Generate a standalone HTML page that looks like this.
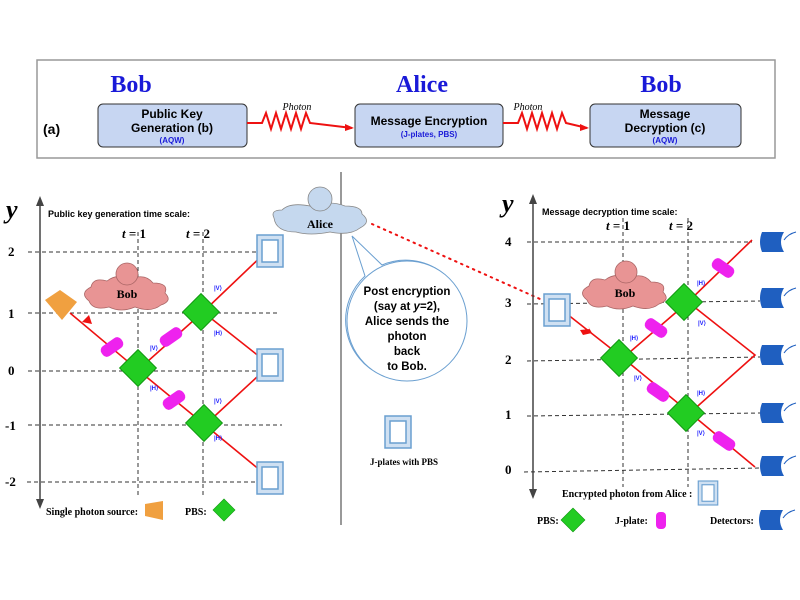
<!DOCTYPE html>
<html><head><meta charset="utf-8"><style>
body{margin:0;background:#fff;width:800px;height:600px;overflow:hidden}
svg{display:block}
.s{font-family:"Liberation Sans",sans-serif}
.r{font-family:"Liberation Serif",serif}
</style></head><body>
<svg width="800" height="600" viewBox="0 0 800 600" xmlns="http://www.w3.org/2000/svg">
<defs>
<g id="fr"><rect x="-13" y="-16" width="26" height="32" fill="#cfe0f2" stroke="#6a9fd0" stroke-width="1.5"/><rect x="-8" y="-11" width="16" height="22" fill="#fff" stroke="#6a9fd0" stroke-width="1.5"/></g>
<g id="pbs"><rect x="-13" y="-13" width="26" height="26" fill="#22cc22" stroke="#119911" transform="rotate(45)"/></g>
<g id="jp"><rect x="-12" y="-6" width="24" height="12" rx="5" fill="#ee22ee"/></g>
<g id="det"><path d="M-14,-10 H8 Q2,0 8,10 H-14 Q-18,0 -14,-10Z" fill="#1f5fc0"/><path d="M8,-2 Q12,-8 20,-10" stroke="#1f5fc0" fill="none"/></g>
<g id="cloudB"><path d="M-38,8 Q-48,0 -36,-6 Q-34,-16 -20,-12 Q-10,-20 4,-14 Q18,-20 26,-10 Q42,-10 38,0 Q46,8 34,12 Q24,20 8,14 Q-6,20 -18,14 Q-34,18 -38,8Z" fill="#e89494" stroke="#a66" stroke-width="0.8"/></g>
</defs>
<rect x="37" y="60" width="738" height="98" fill="#fff" stroke="#999" stroke-width="1.5"/>
<text x="131" y="92" class="r" font-size="24" font-weight="bold" fill="#1a1ad8" text-anchor="middle">Bob</text>
<text x="422" y="92" class="r" font-size="24" font-weight="bold" fill="#1a1ad8" text-anchor="middle">Alice</text>
<text x="661" y="92" class="r" font-size="24" font-weight="bold" fill="#1a1ad8" text-anchor="middle">Bob</text>
<text x="43" y="134" class="s" font-size="14" font-weight="bold">(a)</text>
<rect x="98" y="104" width="149" height="43" rx="5" fill="#c7d6f2" stroke="#333"/>
<rect x="355" y="104" width="148" height="43" rx="5" fill="#c7d6f2" stroke="#333"/>
<rect x="590" y="104" width="151" height="43" rx="5" fill="#c7d6f2" stroke="#333"/>
<g class="s" font-size="12" font-weight="bold" text-anchor="middle">
<text x="172" y="118">Public Key</text><text x="172" y="132">Generation (b)</text>
<text x="429" y="125">Message Encryption</text>
<text x="665" y="118">Message</text><text x="665" y="132">Decryption (c)</text>
</g>
<g class="s" font-size="8" font-weight="bold" fill="#1a1ad8" text-anchor="middle">
<text x="172" y="143">(AQW)</text><text x="429" y="137">(J-plates, PBS)</text><text x="665" y="143">(AQW)</text></g>
<path d="M247,123 L262,123 l4,-10 l5,16 l5,-16 l5,16 l5,-16 l5,16 l5,-16 l5,16 l5,-16 l4,10 L352,128" stroke="#e11" stroke-width="2" fill="none"/>
<path d="M503,123 L518,123 l4,-10 l5,16 l5,-16 l5,16 l5,-16 l5,16 l5,-16 l5,16 l5,-16 l4,10 L587,128" stroke="#e11" stroke-width="2" fill="none"/>
<path d="M345,124 l9,4 -9,3z M580,124 l9,4 -9,3z" fill="#e11"/>
<text x="297" y="110" font-family="serif" font-style="italic" font-size="10" text-anchor="middle">Photon</text>
<text x="528" y="110" font-family="serif" font-style="italic" font-size="10" text-anchor="middle">Photon</text>

<line x1="341" y1="172" x2="341" y2="525" stroke="#999" stroke-width="2"/>

<!-- LEFT -->
<line x1="40" y1="200" x2="40" y2="505" stroke="#444" stroke-width="1.5"/>
<path d="M36,206 L40,196 L44,206Z M36,499 L40,509 L44,499Z" fill="#444"/>
<text x="6" y="218" class="r" font-size="26" font-weight="bold" font-style="italic">y</text>
<text x="48" y="217" class="s" font-size="9" font-weight="bold">Public key generation time  scale:</text>
<g class="r" font-size="13" font-weight="bold">
<text x="8" y="256">2</text><text x="8" y="318">1</text><text x="8" y="375">0</text><text x="5" y="430">-1</text><text x="5" y="486">-2</text></g>
<g stroke="#333" stroke-dasharray="4,3" stroke-width="1">
<line x1="28" y1="252" x2="280" y2="252"/><line x1="28" y1="313" x2="280" y2="313"/><line x1="28" y1="371" x2="280" y2="371"/><line x1="28" y1="425" x2="282" y2="425"/><line x1="27" y1="482" x2="282" y2="482"/>
<line x1="138" y1="232" x2="138" y2="495"/><line x1="203" y1="232" x2="203" y2="495"/></g>
<text x="122" y="238" class="r" font-size="13" font-weight="bold"><tspan font-style="italic">t</tspan> = 1</text>
<text x="186" y="238" class="r" font-size="13" font-weight="bold"><tspan font-style="italic">t</tspan> = 2</text>
<use href="#cloudB" x="127" y="293"/>
<circle cx="127" cy="274" r="11" fill="#e89494" stroke="#a66" stroke-width="0.8"/>
<text x="127" y="298" class="r" font-size="12" font-weight="bold" text-anchor="middle">Bob</text>
<polyline points="70,313 138,370 205,425 272,480" stroke="#e11" stroke-width="1.6" fill="none"/>
<polyline points="138,370 203,312 268,250" stroke="#e11" stroke-width="1.6" fill="none"/>
<polyline points="203,312 270,365 205,425" stroke="#e11" stroke-width="1.6" fill="none"/>
<path d="M82,322 l10,2 -3,-9 z" fill="#e11"/>
<polygon points="45,300 60,290 77,302 62,320" fill="#f0a040"/>
<use href="#jp" transform="translate(112,347) rotate(-35)"/>
<use href="#jp" transform="translate(171,337) rotate(-35)"/>
<use href="#jp" transform="translate(174,400) rotate(-35)"/>
<use href="#pbs" x="138" y="368"/><use href="#pbs" x="201" y="312"/><use href="#pbs" x="204" y="423"/>
<use href="#fr" x="270" y="251"/><use href="#fr" x="270" y="365"/><use href="#fr" x="270" y="478"/>
<g font-size="6" fill="#22f" font-weight="bold" class="s">
<text x="150" y="350">|V⟩</text><text x="150" y="390">|H⟩</text><text x="214" y="290">|V⟩</text><text x="214" y="335">|H⟩</text><text x="214" y="403">|V⟩</text><text x="214" y="440">|H⟩</text></g>
<text x="46" y="515" class="r" font-size="10" font-weight="bold">Single photon source:</text>
<polygon points="145,504 163,501 163,520 145,516" fill="#f0a040"/>
<text x="185" y="515" class="r" font-size="10" font-weight="bold">PBS:</text>
<use href="#pbs" transform="translate(224,510) scale(0.6)"/>

<!-- Alice -->
<path d="M274,218 Q270,210 282,210 Q290,202 310,206 Q330,200 345,206 Q362,206 362,214 Q372,222 360,228 Q350,236 330,232 Q310,236 296,232 Q276,232 274,218Z" fill="#c5d8ee" stroke="#888" stroke-width="0.8"/>
<circle cx="320" cy="199" r="12" fill="#c5d8ee" stroke="#888" stroke-width="0.8"/>
<text x="320" y="228" class="r" font-size="12" font-weight="bold" text-anchor="middle">Alice</text>
<path d="M352,236 L382,265 A60,60 0 1 1 365,276 Z" fill="#fff" stroke="#6a9fd0"/>
<circle cx="407" cy="321" r="60" fill="#fff" stroke="#6a9fd0"/>
<g class="s" font-size="11.5" font-weight="bold" text-anchor="middle">
<text x="407" y="295">Post encryption</text><text x="407" y="310">(say at <tspan font-style="italic">y</tspan>=2),</text><text x="407" y="325">Alice sends the</text><text x="407" y="340">photon</text><text x="407" y="355">back</text><text x="407" y="370">to Bob.</text></g>
<line x1="372" y1="224" x2="540" y2="299" stroke="#e11" stroke-width="2" stroke-dasharray="1.5,5" stroke-linecap="round"/>
<use href="#fr" x="398" y="432"/>
<text x="404" y="465" class="r" font-size="9" font-weight="bold" text-anchor="middle">J-plates with PBS</text>

<!-- RIGHT -->
<line x1="533" y1="198" x2="533" y2="495" stroke="#444" stroke-width="1.5"/>
<path d="M529,204 L533,194 L537,204Z M529,489 L533,499 L537,489Z" fill="#444"/>
<text x="502" y="212" class="r" font-size="26" font-weight="bold" font-style="italic">y</text>
<text x="542" y="215" class="s" font-size="9" font-weight="bold">Message decryption time scale:</text>
<g class="r" font-size="13" font-weight="bold">
<text x="505" y="246">4</text><text x="505" y="307">3</text><text x="505" y="364">2</text><text x="505" y="419">1</text><text x="505" y="474">0</text></g>
<g stroke="#333" stroke-dasharray="4,3" stroke-width="1">
<line x1="527" y1="242" x2="752" y2="242"/><line x1="527" y1="304" x2="760" y2="301"/><line x1="527" y1="361" x2="760" y2="357"/><line x1="527" y1="416" x2="760" y2="413"/><line x1="524" y1="472" x2="760" y2="468"/>
<line x1="623" y1="218" x2="623" y2="487"/><line x1="688" y1="218" x2="688" y2="487"/></g>
<text x="606" y="230" class="r" font-size="13" font-weight="bold"><tspan font-style="italic">t</tspan> = 1</text>
<text x="669" y="230" class="r" font-size="13" font-weight="bold"><tspan font-style="italic">t</tspan> = 2</text>
<use href="#cloudB" x="625" y="292"/>
<circle cx="626" cy="272" r="11" fill="#e89494" stroke="#a66" stroke-width="0.8"/>
<text x="625" y="297" class="r" font-size="12" font-weight="bold" text-anchor="middle">Bob</text>
<polyline points="567,314 623,358 690,413 755,467" stroke="#e11" stroke-width="1.6" fill="none"/>
<polyline points="623,358 688,302 752,240" stroke="#e11" stroke-width="1.6" fill="none"/>
<polyline points="688,302 755,355 690,413" stroke="#e11" stroke-width="1.6" fill="none"/>
<path d="M580,330 l10,-1 -2,-3 4,7 -9,2z" fill="#e11"/>
<use href="#fr" x="557" y="310"/>
<use href="#jp" transform="translate(723,268) rotate(35)"/>
<use href="#jp" transform="translate(656,328) rotate(35)"/>
<use href="#jp" transform="translate(658,392) rotate(35)"/>
<use href="#jp" transform="translate(724,441) rotate(35)"/>
<use href="#pbs" x="619" y="358"/><use href="#pbs" x="684" y="302"/><use href="#pbs" x="686" y="413"/>
<g font-size="6" fill="#22f" font-weight="bold" class="s">
<text x="630" y="340">|H⟩</text><text x="634" y="380">|V⟩</text><text x="697" y="285">|H⟩</text><text x="698" y="325">|V⟩</text><text x="697" y="395">|H⟩</text><text x="697" y="435">|V⟩</text></g>
<use href="#det" x="776" y="242"/><use href="#det" x="776" y="298"/><use href="#det" x="776" y="355"/><use href="#det" x="776" y="413"/><use href="#det" x="776" y="466"/>
<text x="562" y="497" class="r" font-size="10" font-weight="bold">Encrypted photon from Alice :</text>
<use href="#fr" transform="translate(708,493) scale(0.75)"/>
<text x="537" y="524" class="r" font-size="10" font-weight="bold">PBS:</text>
<use href="#pbs" transform="translate(573,520) scale(0.65)"/>
<text x="615" y="524" class="r" font-size="10" font-weight="bold">J-plate:</text>
<rect x="656" y="512" width="10" height="17" rx="4" fill="#ee22ee"/>
<text x="710" y="524" class="r" font-size="10" font-weight="bold">Detectors:</text>
<use href="#det" x="775" y="520"/>
</svg>
</body></html>
